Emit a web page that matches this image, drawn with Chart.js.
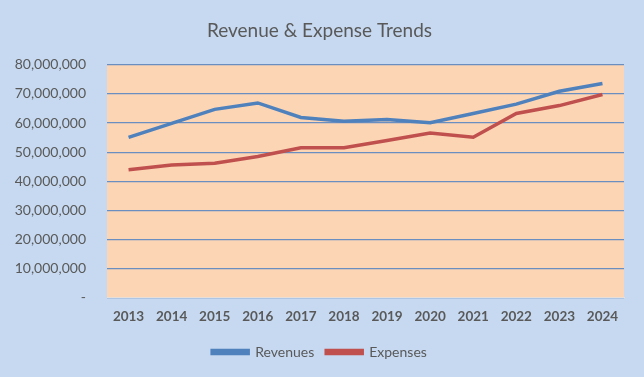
<!DOCTYPE html>
<html>
<head>
<meta charset="utf-8">
<script src="https://cdn.jsdelivr.net/npm/chart.js@4/dist/chart.umd.min.js"></script>
<style>
  html, body { margin: 0; padding: 0; background: #c6d9f1; }
  #wrap { width: 644px; height: 377px; }
</style>
</head>
<body>
<div id="wrap"><canvas id="trendChart" width="644" height="377"></canvas></div>
<script>
// years along the bottom
const years = ['2013', '2014', '2015', '2016', '2017', '2018', '2019', '2020', '2021', '2022', '2023', '2024'];

// values
const revenues = [55100000, 59900000, 64700000, 66900000, 61900000, 60600000, 61200000, 60100000, 63300000, 66500000, 70900000, 73600000];
const expenses = [44000000, 45600000, 46200000, 48500000, 51500000, 51500000, 54000000, 56600000, 55100000, 63300000, 66000000, 69800000];

const textColor = '#595959';

// paints the outer blue and the peach plot area
const backdrop = {
    id: 'backdrop',
    beforeDraw(chart) {
        const c = chart.ctx;
        const a = chart.chartArea;
        c.save();
        c.fillStyle = '#c6d9f1';
        c.fillRect(0, 0, chart.width, chart.height);
        c.fillStyle = '#fcd5b5';
        c.fillRect(a.left, a.top, a.right - a.left, a.bottom - a.top);
        c.restore();
    }
};

const ctx = document.getElementById('trendChart').getContext('2d');
const trendChart = new Chart(ctx, {
    type: 'line',
    data: {
        labels: years,
        datasets: [{
            label: 'Revenues',
            data: revenues,
            borderColor: '#4f81bd',
            backgroundColor: '#4f81bd',
            borderWidth: 3.5,
            pointRadius: 0,
            tension: 0
        }, {
            label: 'Expenses',
            data: expenses,
            borderColor: '#c0504d',
            backgroundColor: '#c0504d',
            borderWidth: 3.5,
            pointRadius: 0,
            tension: 0
        }]
    },
    options: {
        responsive: false,
        animation: false,
        layout: { padding: { left: 15, right: 20, top: 8, bottom: 8 } },
        plugins: {
            title: {
                display: true,
                text: 'Revenue & Expense Trends',
                color: textColor,
                font: { family: 'Lato', size: 19, weight: 'normal' },
                padding: { top: 11, bottom: 23 }
            },
            legend: {
                position: 'bottom',
                labels: {
                    color: textColor,
                    font: { family: 'Lato', size: 14 },
                    boxWidth: 36,
                    boxHeight: 3,
                    padding: 12
                }
            },
            tooltip: { enabled: false }
        },
        scales: {
            x: {
                offset: true,
                afterFit: scale => { scale.height += 5; },
                grid: { display: false },
                border: { color: '#e8e0d8', width: 1 },
                ticks: {
                    color: textColor,
                    font: { family: 'Lato', size: 13.5, weight: 'bold' },
                    padding: 3,
                    maxRotation: 0
                }
            },
            y: {
                min: 0,
                max: 80000000,
                afterFit: scale => { scale.width = 92; },
                grid: { color: '#6a8ebf', lineWidth: 1.3, drawTicks: false },
                border: { display: false },
                ticks: {
                    stepSize: 10000000,
                    color: textColor,
                    font: { family: 'Lato', size: 14 },
                    padding: 21,
                    callback: v => v === 0 ? '-' : v.toLocaleString('en-US')
                }
            }
        }
    },
    plugins: [backdrop]
});
</script>
</body>
</html>
